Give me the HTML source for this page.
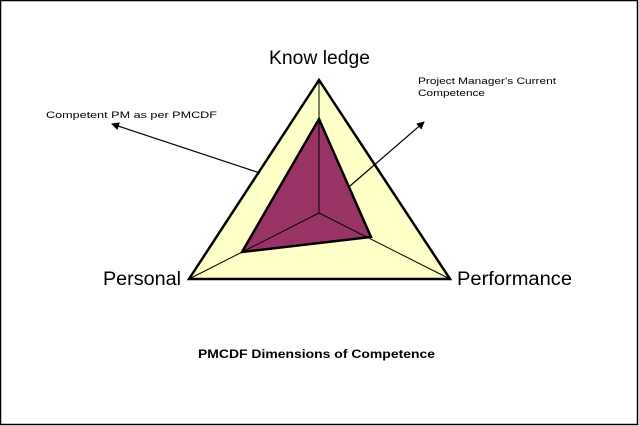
<!DOCTYPE html>
<html><head><style>
html,body{margin:0;padding:0;background:#fff;}
svg{display:block;}
</style></head><body>
<svg width="639" height="426" xmlns="http://www.w3.org/2000/svg" font-family="Liberation Sans, Arial, sans-serif">
<rect x="0.5" y="0.5" width="637" height="424" fill="#fff" stroke="#000" stroke-width="1.5"/>
<defs><marker id="a" markerWidth="8" markerHeight="8" refX="7" refY="4" orient="auto" markerUnits="userSpaceOnUse"><path d="M0,0 L8,4 L0,8 z" fill="#000"/></marker></defs>
<polygon points="319,80 189,279 450,279" fill="#FFFFC8" stroke="#000" stroke-width="2.5" stroke-linejoin="miter"/>
<polygon points="319,119 242,252 371,237" fill="#993366" stroke="#000" stroke-width="2.5"/>
<line x1="319" y1="213" x2="319" y2="80" stroke="#000" stroke-width="1"/>
<line x1="319" y1="213" x2="189" y2="279" stroke="#000" stroke-width="1"/>
<line x1="319" y1="213" x2="450" y2="279" stroke="#000" stroke-width="1"/>
<line x1="260" y1="173" x2="112" y2="124" stroke="#000" stroke-width="1.2" marker-end="url(#a)"/>
<line x1="350" y1="186" x2="424" y2="122" stroke="#000" stroke-width="1.2" marker-end="url(#a)"/>
<text x="269" y="64" font-size="19" textLength="101" lengthAdjust="spacingAndGlyphs">Know ledge</text>
<text x="103" y="285" font-size="19" textLength="78" lengthAdjust="spacingAndGlyphs">Personal</text>
<text x="457" y="285" font-size="19" textLength="115" lengthAdjust="spacingAndGlyphs">Performance</text>
<text x="46" y="118" font-size="9.5" textLength="171" lengthAdjust="spacingAndGlyphs">Competent PM as per PMCDF</text>
<text x="418" y="84" font-size="9.5" textLength="138" lengthAdjust="spacingAndGlyphs">Project Manager's Current</text>
<text x="418" y="96" font-size="9.5" textLength="67" lengthAdjust="spacingAndGlyphs">Competence</text>
<text x="198" y="358" font-size="12" font-weight="bold" textLength="237" lengthAdjust="spacingAndGlyphs">PMCDF Dimensions of Competence</text>
</svg>
</body></html>
